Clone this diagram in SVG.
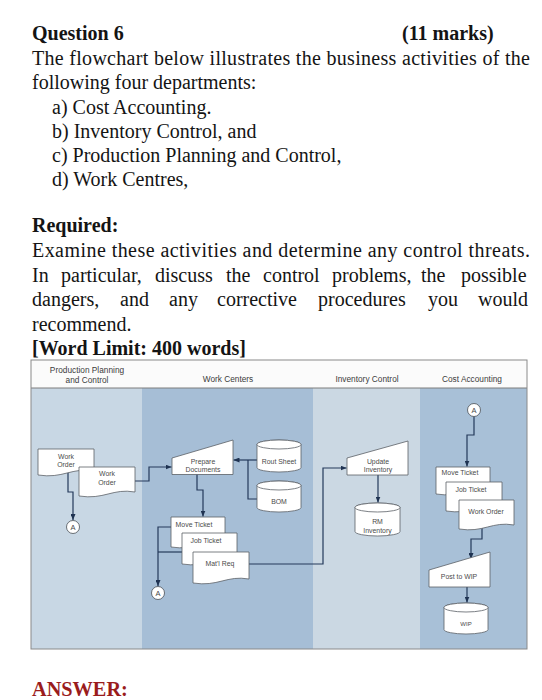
<svg xmlns="http://www.w3.org/2000/svg" width="542" height="700" viewBox="0 0 542 700">
<style>
.q{font-family:"Liberation Serif","Times New Roman",serif;font-size:20px;fill:#141414}
.b{font-weight:bold}
.ans{font-family:"Liberation Serif","Times New Roman",serif;font-size:20.3px;font-weight:bold;fill:#9a1c1c}
.hdr{font-family:"Liberation Sans",Arial,sans-serif;font-size:8.3px;fill:#3c3c3c;text-anchor:middle}
.lbl{font-family:"Liberation Sans",Arial,sans-serif;font-size:6.9px;fill:#4a4a4a;text-anchor:middle}
.shape{fill:#ffffff;stroke:#5a5f66;stroke-width:0.8}
.conn{fill:none;stroke:#24395a;stroke-width:1.2}
.circ{fill:#ffffff;stroke:#4a4f56;stroke-width:0.8}
</style>
<defs>
<marker id="arr" markerUnits="userSpaceOnUse" markerWidth="6" markerHeight="5" refX="6" refY="2.5" orient="auto">
<path d="M0,0 L6,2.5 L0,5 Z" fill="#1f3352"/>
</marker>
</defs>
<rect x="0" y="0" width="542" height="700" fill="#ffffff"/>

<g id="question-text">
<text class="q b" x="32" y="40">Question 6</text>
<text class="q b" x="402" y="40">(11 marks)</text>
<text class="q" x="32" y="65" textLength="498" lengthAdjust="spacing">The flowchart below illustrates the business activities of the</text>
<text class="q" x="32" y="89">following four departments:</text>
<text class="q" x="52" y="114">a) Cost Accounting.</text>
<text class="q" x="52" y="138">b) Inventory Control, and</text>
<text class="q" x="52" y="162">c) Production Planning and Control,</text>
<text class="q" x="52" y="186">d) Work Centres,</text>
<text class="q b" x="32" y="232">Required:</text>
<text class="q" x="32" y="257" textLength="498" lengthAdjust="spacing">Examine these activities and determine any control threats.</text>
<text class="q" y="281.5"><tspan x="32">In</tspan><tspan x="61">particular,</tspan><tspan x="155">discuss</tspan><tspan x="226">the</tspan><tspan x="263">control</tspan><tspan x="332">problems,</tspan><tspan x="421">the</tspan><tspan x="461">possible</tspan></text>
<text class="q" y="306"><tspan x="32">dangers,</tspan><tspan x="120">and</tspan><tspan x="169">any</tspan><tspan x="217">corrective</tspan><tspan x="318">procedures</tspan><tspan x="428">you</tspan><tspan x="478">would</tspan></text>
<text class="q" x="32" y="330.5">recommend.</text>
<text class="q b" x="32" y="355">[Word Limit: 400 words]</text>
<text class="ans" x="32" y="696">ANSWER:</text>
</g>

<g id="frame">
<rect x="31" y="388" width="111" height="261" fill="#c8d7e4"/>
<rect x="142" y="388" width="171" height="261" fill="#a6bed6"/>
<rect x="313" y="388" width="107" height="261" fill="#cbd8e3"/>
<rect x="420" y="388" width="107" height="261" fill="#a8c0d7"/>
<rect x="31" y="360" width="496" height="28" fill="#fbfbfb"/>
<line x1="31" y1="388" x2="527" y2="388" stroke="#7c7c7c" stroke-width="1"/>
<rect x="31" y="360" width="496" height="289" fill="none" stroke="#8a8a8a" stroke-width="1"/>
<text class="hdr" x="87" y="372.5">Production Planning</text>
<text class="hdr" x="87" y="382.5">and Control</text>
<text class="hdr" x="228" y="382">Work Centers</text>
<text class="hdr" x="367" y="382">Inventory Control</text>
<text class="hdr" x="472" y="382">Cost Accounting</text>
</g>

<g id="connectors">
<path class="conn" d="M68,470 V492 H73 V520" marker-end="url(#arr)"/>
<path class="conn" d="M135,481 H149 V467 H171.5" marker-end="url(#arr)"/>
<path class="conn" d="M257,460 H233.5" marker-end="url(#arr)"/>
<path class="conn" d="M257,499 H248 V460"/>
<path class="conn" d="M197,474 V490 H203 V516.5" marker-end="url(#arr)"/>
<path class="conn" d="M171,527 H158 V586" marker-end="url(#arr)"/>
<path class="conn" d="M158,552 H182"/>
<path class="conn" d="M249,564 H323 V468 H346.5" marker-end="url(#arr)"/>
<path class="conn" d="M378,475 V502.5" marker-end="url(#arr)"/>
<path class="conn" d="M474,416.5 V435 H467 V466.5" marker-end="url(#arr)"/>
<path class="conn" d="M482,526 V539 H471 V559" marker-end="url(#arr)"/>
<path class="conn" d="M467,587 V602.5" marker-end="url(#arr)"/>
</g>

<g id="work-order-1">
<path class="shape" d="M38,449 H94 V471 C71.6,467 63.2,479 38,475 Z"/>
<text class="lbl" x="66" y="458.5">Work</text>
<text class="lbl" x="66" y="467">Order</text>
</g>
<g id="work-order-2">
<path class="shape" d="M79,467 H135 V492 C112.6,488 104.2,500 79,496 Z"/>
<text class="lbl" x="107" y="475.5">Work</text>
<text class="lbl" x="107" y="484.5">Order</text>
</g>
<g id="connector-a-ppc">
<circle class="circ" cx="73" cy="527" r="6.5"/>
<text class="lbl" x="73" y="529.7" style="font-size:7.5px">A</text>
</g>

<g id="prepare-documents">
<path class="shape" d="M172,458 L233,440 L233,474.5 L172,474.5 Z"/>
<text class="lbl" x="203" y="463.5">Prepare</text>
<text class="lbl" x="203" y="471.5">Documents</text>
</g>
<g id="rout-sheet">
<path class="shape" d="M257,444.5 V467.5 A22,4.5 0 0 0 301,467.5 V444.5 A22,4.5 0 0 0 257,444.5 Z"/>
<ellipse class="shape" cx="279" cy="444.5" rx="22" ry="4.5"/>
<text class="lbl" x="279" y="463.5">Rout Sheet</text>
</g>
<g id="bom">
<path class="shape" d="M257,485.5 V507.5 A22,4.5 0 0 0 301,507.5 V485.5 A22,4.5 0 0 0 257,485.5 Z"/>
<ellipse class="shape" cx="279" cy="485.5" rx="22" ry="4.5"/>
<text class="lbl" x="279" y="503.5">BOM</text>
</g>
<g id="move-ticket-wc">
<path class="shape" d="M171,517 H225 V543 C203.4,539 195.3,551 171,547 Z"/>
<text class="lbl" x="194" y="526.5">Move Ticket</text>
</g>
<g id="job-ticket-wc">
<path class="shape" d="M182,533 H237 V560 C215,556 206.75,568 182,564 Z"/>
<text class="lbl" x="206" y="542.5">Job Ticket</text>
</g>
<g id="matl-req">
<path class="shape" d="M193,552 H249 V579 C226.6,575 218.2,587 193,583 Z"/>
<text class="lbl" x="220" y="565.5">Mat'l Req</text>
</g>
<g id="connector-a-wc">
<circle class="circ" cx="158" cy="593" r="6.5"/>
<text class="lbl" x="158" y="595.7" style="font-size:7.5px">A</text>
</g>

<g id="update-inventory">
<path class="shape" d="M347,458 L408,441 L408,475 L347,475 Z"/>
<text class="lbl" x="378" y="464">Update</text>
<text class="lbl" x="378" y="471.5">Inventory</text>
</g>
<g id="rm-inventory">
<path class="shape" d="M355,507.5 V531.5 A22.5,4.5 0 0 0 400,531.5 V507.5 A22.5,4.5 0 0 0 355,507.5 Z"/>
<ellipse class="shape" cx="377.5" cy="507.5" rx="22.5" ry="4.5"/>
<text class="lbl" x="377.5" y="524">RM</text>
<text class="lbl" x="377.5" y="532.5">Inventory</text>
</g>

<g id="connector-a-ca">
<circle class="circ" cx="474" cy="410" r="6.5"/>
<text class="lbl" x="474" y="412.7" style="font-size:7.5px">A</text>
</g>
<g id="move-ticket-ca">
<path class="shape" d="M436,467 H490 V490 C468.4,486 460.3,498 436,494 Z"/>
<text class="lbl" x="460" y="474.5">Move Ticket</text>
</g>
<g id="job-ticket-ca">
<path class="shape" d="M446,482 H502 V507 C479.6,503 471.2,515 446,511 Z"/>
<text class="lbl" x="471" y="491.5">Job Ticket</text>
</g>
<g id="work-order-ca">
<path class="shape" d="M459,500 H514 V525 C492,521 483.75,533 459,529 Z"/>
<text class="lbl" x="486" y="513.5">Work Order</text>
</g>
<g id="post-to-wip">
<path class="shape" d="M429,570 L490,552 L490,587 L429,587 Z"/>
<text class="lbl" x="459" y="578.5">Post to WIP</text>
</g>
<g id="wip">
<path class="shape" d="M444,607.5 V629.5 A22,4.5 0 0 0 488,629.5 V607.5 A22,4.5 0 0 0 444,607.5 Z"/>
<ellipse class="shape" cx="466" cy="607.5" rx="22" ry="4.5"/>
<text class="lbl" x="466" y="626" style="font-size:6px">WIP</text>
</g>
</svg>
